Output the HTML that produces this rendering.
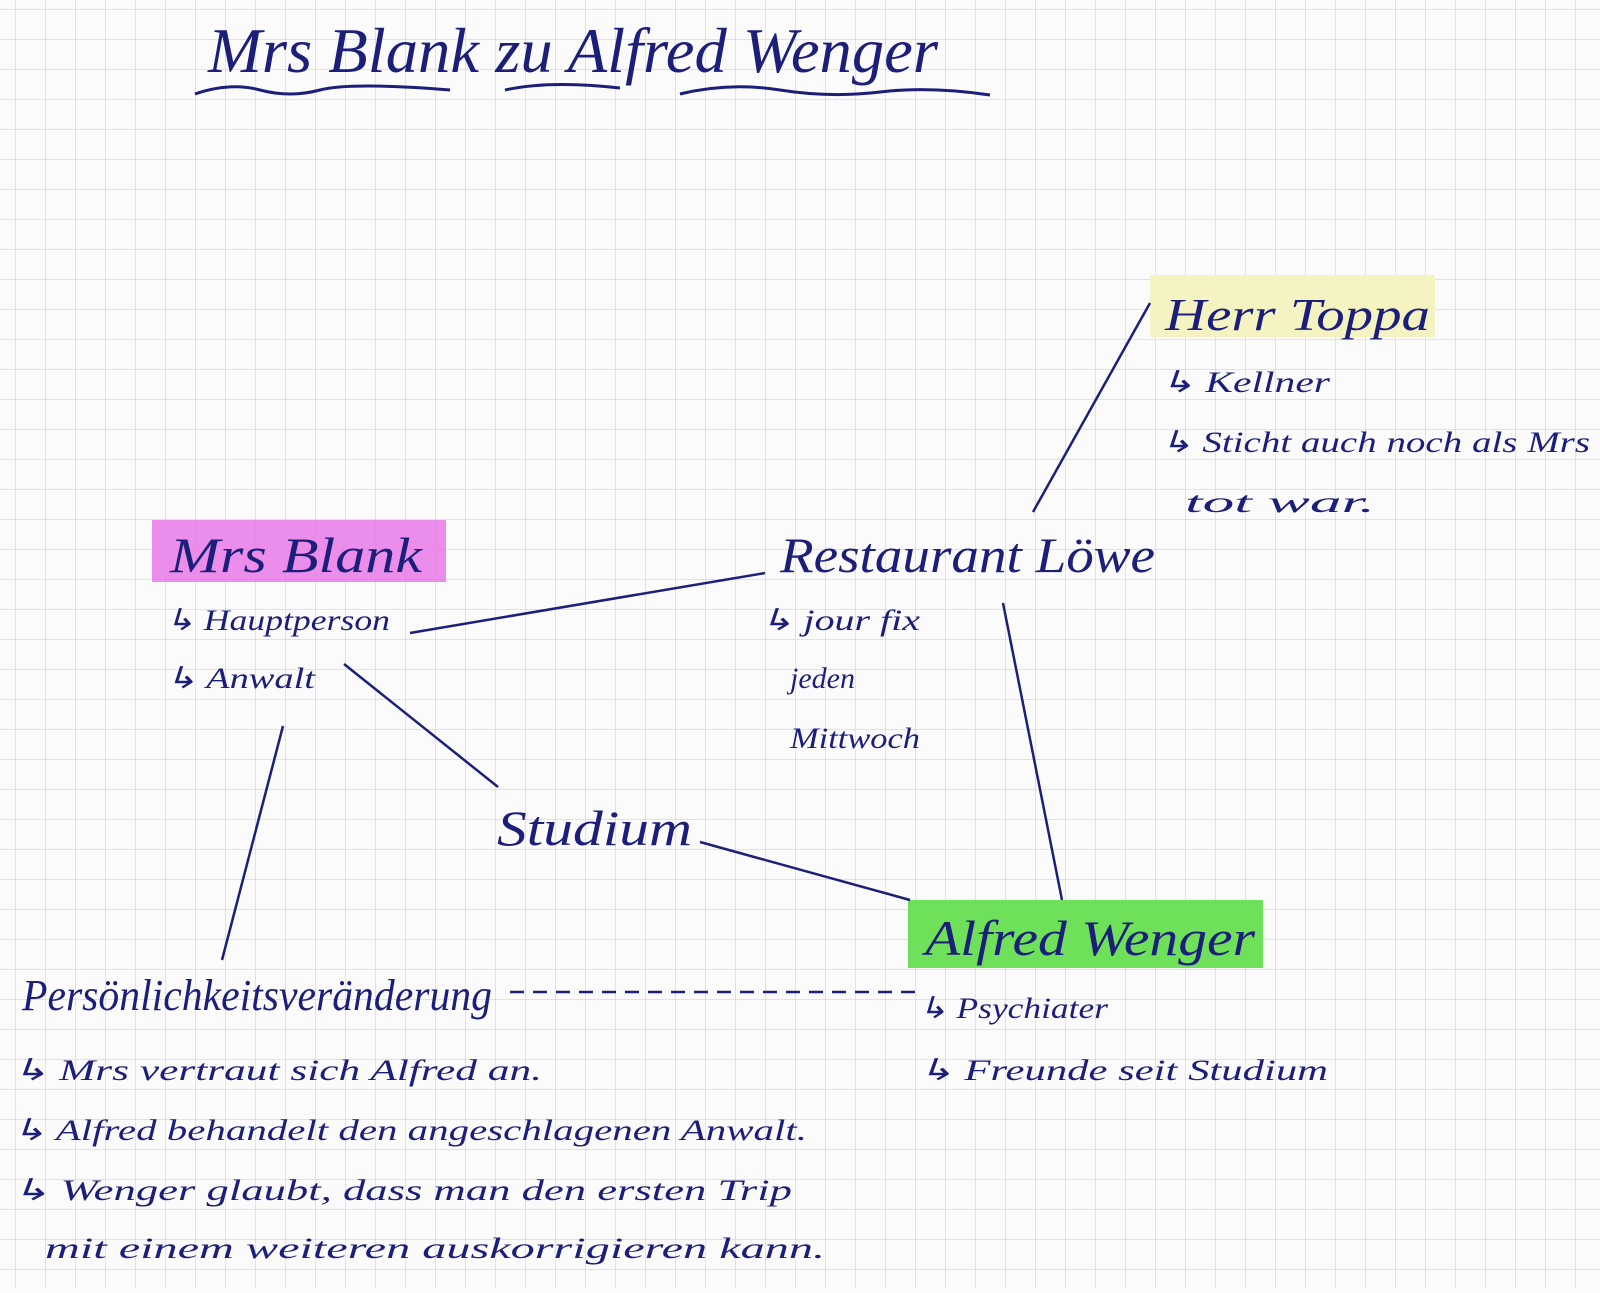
<!DOCTYPE html>
<html><head><meta charset="utf-8"><style>
html,body{margin:0;padding:0;}
body{width:1600px;height:1288px;overflow:hidden;background:#fbfbfb;}
svg text{font-family:"Liberation Serif",serif;font-style:italic;fill:#1c1f7a;}
</style></head><body>
<svg width="1600" height="1288" xmlns="http://www.w3.org/2000/svg">
<defs>
<pattern id="g" x="15" y="9" width="30" height="30" patternUnits="userSpaceOnUse">
<path d="M0 0H30M0 0V30" stroke="#c9c9cf" stroke-width="1" fill="none"/>
</pattern>
</defs>
<rect width="1600" height="1288" fill="url(#g)"/>
<rect x="152" y="520" width="294" height="62" fill="#e879e8" opacity="0.85"/>
<rect x="1150" y="275" width="285" height="62" fill="#f6f3c2"/>
<rect x="908" y="900" width="355" height="68" fill="#6fe05a"/>
<text x="208" y="72" font-size="64" textLength="730" lengthAdjust="spacingAndGlyphs">Mrs  Blank  zu  Alfred  Wenger</text>
<path d="M195 94 Q230 82 260 90 T320 90 T450 90 M505 90 Q550 80 620 88 M680 94 Q730 82 780 90 T880 92 T990 95" stroke="#1c1f7a" stroke-width="3" fill="none"/>
<g stroke="#1c1f7a" stroke-width="2.5" fill="none">
<line x1="410" y1="633" x2="765" y2="573"/>
<line x1="344" y1="664" x2="498" y2="787"/>
<line x1="283" y1="726" x2="222" y2="960"/>
<line x1="700" y1="842" x2="910" y2="900"/>
<line x1="1003" y1="603" x2="1062" y2="900"/>
<line x1="1150" y1="303" x2="1033" y2="512"/>
<line x1="510" y1="992" x2="915" y2="992" stroke-dasharray="14 9"/>
</g>
<text x="170" y="572" font-size="50" textLength="252" lengthAdjust="spacingAndGlyphs">Mrs  Blank</text>
<text x="165" y="630" font-size="30" textLength="225" lengthAdjust="spacingAndGlyphs">↳ Hauptperson</text>
<text x="165" y="688" font-size="30" textLength="150" lengthAdjust="spacingAndGlyphs">↳ Anwalt</text>
<text x="780" y="572" font-size="50" textLength="375" lengthAdjust="spacingAndGlyphs">Restaurant  Löwe</text>
<text x="760" y="630" font-size="30" textLength="160" lengthAdjust="spacingAndGlyphs">↳ jour fix</text>
<text x="790" y="688" font-size="30">jeden</text>
<text x="790" y="748" font-size="30" textLength="130" lengthAdjust="spacingAndGlyphs">Mittwoch</text>
<text x="1165" y="330" font-size="46" textLength="265" lengthAdjust="spacingAndGlyphs">Herr  Toppa</text>
<text x="1160" y="392" font-size="30" textLength="170" lengthAdjust="spacingAndGlyphs">↳ Kellner</text>
<text x="1160" y="452" font-size="30" textLength="430" lengthAdjust="spacingAndGlyphs">↳ Sticht auch noch als Mrs</text>
<text x="1185" y="512" font-size="30" textLength="190" lengthAdjust="spacingAndGlyphs">tot  war.</text>
<text x="497" y="845" font-size="50" textLength="195" lengthAdjust="spacingAndGlyphs">Studium</text>
<text x="925" y="955" font-size="50" textLength="330" lengthAdjust="spacingAndGlyphs">Alfred    Wenger</text>
<text x="918" y="1018" font-size="30" textLength="190" lengthAdjust="spacingAndGlyphs">↳ Psychiater</text>
<text x="918" y="1080" font-size="30" textLength="410" lengthAdjust="spacingAndGlyphs">↳ Freunde  seit  Studium</text>
<text x="22" y="1010" font-size="44" textLength="470" lengthAdjust="spacingAndGlyphs">Persönlichkeitsveränderung</text>
<text x="12" y="1080" font-size="30" textLength="530" lengthAdjust="spacingAndGlyphs">↳ Mrs  vertraut  sich  Alfred  an.</text>
<text x="12" y="1140" font-size="30" textLength="795" lengthAdjust="spacingAndGlyphs">↳ Alfred  behandelt  den  angeschlagenen  Anwalt.</text>
<text x="12" y="1200" font-size="30" textLength="780" lengthAdjust="spacingAndGlyphs">↳ Wenger  glaubt, dass  man  den  ersten  Trip</text>
<text x="45" y="1258" font-size="30" textLength="780" lengthAdjust="spacingAndGlyphs">mit  einem   weiteren  auskorrigieren  kann.</text>
</svg>
</body></html>
